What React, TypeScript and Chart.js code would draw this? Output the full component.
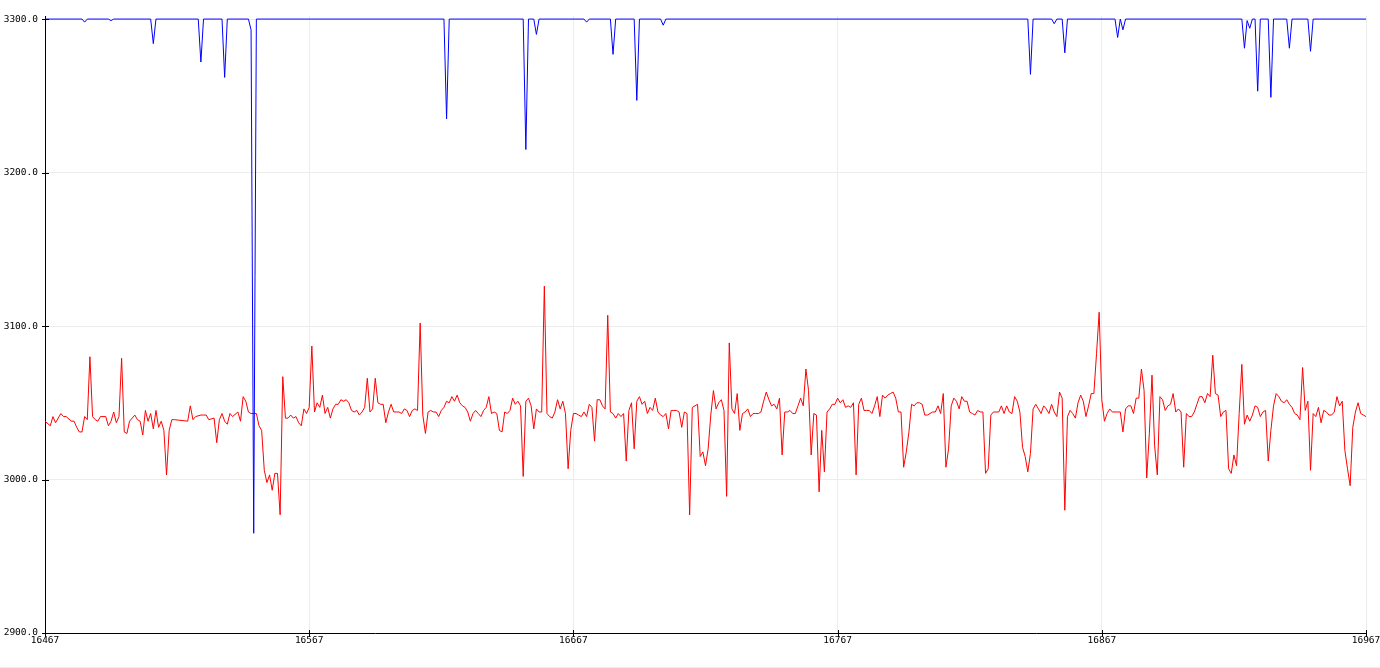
import React, { useEffect, useRef } from 'react';
import { Chart, registerables } from 'chart.js';

Chart.register(...registerables);

const START_SAMPLE = 16467;
const xTickValues = [16467, 16567, 16667, 16767, 16867, 16967];
const yTickValues = [2900, 3000, 3100, 3200, 3300];

// red series: one value per sample offset 0..500 (null = not read)
const redValues: (number | null)[] = [
  3038, null, 3035, 3041, 3037, null, 3043, 3041, 3041, null,
  3038, 3038, 3034, 3031, 3031, 3041, 3039, 3080, 3041, 3039,
  3038, 3041, null, 3041, 3035, 3038, 3044, 3037, 3041, 3079,
  3031, 3030, 3038, null, 3042, 3039, 3038, 3029, 3045, 3038,
  3043, 3033, 3045, 3034, 3038, 3032, 3003, 3032, 3039, 3039,
  null, null, null, null, 3038, 3048, 3039, 3041, null, 3042,
  3042, 3042, 3039, null, 3040, 3024, 3039, 3043, 3038, 3036,
  3043, 3041, null, 3044, 3038, 3054, 3051, 3044, 3043, null,
  3043, 3035, 3032, 3006, 2998, 3003, 2993, 3004, 3004, 2977,
  3067, 3040, 3040, 3042, 3040, 3041, 3037, 3035, 3046, 3043,
  3047, 3087, 3044, 3050, 3047, 3055, 3043, 3047, 3040, 3046,
  3049, 3049, 3052, 3051, 3052, 3050, 3045, 3044, 3045, 3042,
  3044, 3047, 3066, 3044, 3046, 3066, 3050, 3049, 3049, 3037,
  3044, 3049, 3044, 3044, 3044, 3043, 3046, 3045, 3041, 3045,
  3046, 3045, 3102, 3042, 3030, 3044, 3045, 3044, 3044, 3041,
  3045, 3047, 3051, 3050, 3054, 3051, 3055, 3050, 3048, 3047,
  3044, 3038, 3043, 3045, 3043, 3041, 3045, 3047, 3054, 3043,
  3044, 3043, 3032, 3031, 3044, 3043, 3045, 3053, 3049, 3051,
  3048, 3002, 3051, 3053, 3048, 3033, 3046, 3044, 3044, 3126,
  3043, 3041, 3040, 3044, 3052, 3046, 3051, 3043, 3007, 3032,
  3043, 3043, 3042, 3041, 3044, 3041, 3049, 3047, 3025, 3052,
  3052, 3048, 3046, 3107, 3044, 3043, 3040, 3043, 3041, 3043,
  3012, 3045, 3050, 3020, 3051, 3054, 3049, 3051, 3043, 3047,
  3045, 3053, 3044, 3042, 3041, 3043, 3033, 3045, 3045, 3045,
  3044, 3034, 3044, 3043, 2977, 3047, 3048, 3049, 3015, 3018,
  3009, 3020, 3042, 3058, 3046, 3050, 3052, 3045, 2989, 3089,
  3046, 3043, 3056, 3032, 3043, 3044, 3046, 3041, 3043, 3043,
  3043, 3044, 3051, 3057, 3052, 3048, 3049, 3046, 3053, 3016,
  3044, 3044, 3045, 3043, 3043, 3048, 3053, 3048, 3072, 3058,
  3016, 3043, 3042, 2992, 3032, 3005, 3044, 3046, 3049, 3049,
  3053, 3050, 3052, 3047, 3048, 3047, 3050, 3003, 3049, 3053,
  3045, 3045, 3045, 3043, 3048, 3054, 3041, 3055, 3053, 3055,
  3056, 3057, 3053, 3044, 3044, 3008, 3018, 3031, 3049, 3048,
  3050, 3050, 3049, 3042, 3042, 3043, 3044, 3044, 3048, 3043,
  3056, 3008, 3020, 3048, 3053, 3051, 3046, 3054, 3051, 3051,
  3044, 3043, 3042, 3045, 3044, 3044, 3004, 3007, 3042, 3044,
  3044, 3044, 3048, 3043, 3048, 3044, 3043, 3054, 3051, 3044,
  3021, 3015, 3005, 3017, 3046, 3049, 3046, 3043, 3048, 3046,
  3043, 3049, 3044, 3041, 3057, 3053, 2980, 3041, 3045, 3043,
  3040, 3050, 3055, 3051, 3041, 3048, 3056, 3056, 3082, 3109,
  3052, 3038, 3043, 3046, 3044, 3044, 3044, 3044, 3031, 3046,
  3048, 3048, 3043, 3053, 3053, 3072, 3058, 3001, 3030, 3068,
  3022, 3003, 3054, 3052, 3045, 3048, 3049, 3056, 3044, 3046,
  3044, 3008, 3043, 3041, 3041, 3044, 3049, 3054, 3054, 3050,
  3056, 3054, 3081, 3056, 3055, 3041, 3044, 3045, 3007, 3004,
  3016, 3009, 3043, 3075, 3036, 3042, 3038, 3042, 3048, 3047,
  3041, 3044, 3045, 3012, 3032, 3048, 3056, 3054, 3051, 3050,
  3052, 3049, 3047, 3043, 3042, 3039, 3073, 3045, 3051, 3006,
  3043, 3041, 3047, 3037, 3045, 3044, 3042, 3042, 3044, 3054,
  3048, 3051, 3019, 3007, 2996, 3034, 3044, 3050, 3043, 3042,
  3041,
];

// blue series: vertices (sample offset, value)
const blueSamples = [
  0, 14, 15, 16, 24, 25, 26, 40, 41, 42,
  58, 59, 60, 67, 68, 69, 77, 78, 79, 80,
  151, 152, 153, 181, 182, 183, 185, 186, 187, 204,
  205, 206, 214, 215, 216, 223, 224, 225, 233, 234,
  235, 372, 373, 374, 381, 382, 383, 385, 386, 387,
  405, 406, 407, 408, 409, 453, 454, 455, 456, 457,
  458, 459, 460, 463, 464, 465, 470, 471, 472, 478,
  479, 480, 500,
];
const blueValues = [
  3300, 3300, 3298, 3300, 3300, 3299, 3300, 3300, 3284, 3300,
  3300, 3272, 3300, 3300, 3262, 3300, 3300, 3293, 2965, 3300,
  3300, 3235, 3300, 3300, 3215, 3300, 3300, 3290, 3300, 3300,
  3298, 3300, 3300, 3277, 3300, 3300, 3247, 3300, 3300, 3296,
  3300, 3300, 3264, 3300, 3300, 3297, 3300, 3300, 3278, 3300,
  3300, 3288, 3300, 3293, 3300, 3300, 3281, 3299, 3294, 3300,
  3300, 3253, 3300, 3300, 3249, 3300, 3300, 3281, 3300, 3300,
  3279, 3300, 3300,
];

const FONT = { family: '"DejaVu Sans Mono", "Liberation Mono", monospace', size: 9.5 };

export default function App() {
  const ref = useRef<HTMLCanvasElement | null>(null);

  useEffect(() => {
    document.body.style.margin = '0';
    const canvas = ref.current;
    if (!canvas) return;

    const crossTicks = {
      id: 'crossTicks',
      afterDraw(chart: any) {
        const { ctx, chartArea, scales } = chart;
        ctx.save();
        ctx.strokeStyle = '#000';
        ctx.lineWidth = 1;
        ctx.beginPath();
        yTickValues.forEach((v) => {
          const y = Math.round(scales.y.getPixelForValue(v)) + 0.5;
          ctx.moveTo(chartArea.left - 3, y);
          ctx.lineTo(chartArea.left + 4, y);
        });
        xTickValues.forEach((v) => {
          const x = Math.round(scales.x.getPixelForValue(v)) + 0.5;
          ctx.moveTo(x, chartArea.bottom - 3);
          ctx.lineTo(x, chartArea.bottom + 4);
        });
        ctx.stroke();
        ctx.restore();
      },
    };

    const chart = new Chart(canvas, {
      type: 'line',
      data: {
        datasets: [
          {
            label: 'blue',
            data: blueSamples.map((s, i) => ({ x: START_SAMPLE + s, y: blueValues[i] })),
            borderColor: '#0000ff',
            borderWidth: 1,
            pointRadius: 0,
            tension: 0,
            fill: false,
          },
          {
            label: 'red',
            data: redValues.map((v, i) => ({ x: START_SAMPLE + i, y: v })),
            borderColor: '#ff0000',
            borderWidth: 1,
            pointRadius: 0,
            tension: 0,
            fill: false,
            spanGaps: true,
          },
        ],
      },
      options: {
        animation: false,
        responsive: false,
        events: [],
        plugins: { legend: { display: false }, tooltip: { enabled: false } },
        layout: { padding: { top: 16, right: 14, left: 0, bottom: 0 } },
        scales: {
          x: {
            type: 'linear',
            min: 16467,
            max: 16967,
            afterBuildTicks: (s: any) => {
              s.ticks = xTickValues.map((v) => ({ value: v }));
            },
            afterFit: (s: any) => {
              s.height = 34;
              s.paddingLeft = 0;
              s.paddingRight = 0;
            },
            ticks: {
              autoSkip: false,
              maxRotation: 0,
              padding: 2,
              color: '#000',
              font: FONT,
              callback: (v: any) => String(v),
            },
            grid: { color: '#ececec', drawTicks: false },
            border: { color: '#000', width: 1 },
          },
          y: {
            type: 'linear',
            min: 2900,
            max: 3302,
            afterBuildTicks: (s: any) => {
              s.ticks = yTickValues.map((v) => ({ value: v }));
            },
            afterFit: (s: any) => {
              s.width = 45;
              s.paddingTop = 0;
              s.paddingBottom = 0;
            },
            ticks: {
              padding: 7,
              color: '#000',
              font: FONT,
              callback: (v: any) => Number(v).toFixed(1),
            },
            grid: { color: '#ececec', drawTicks: false },
            border: { color: '#000', width: 1 },
          },
        },
      },
      plugins: [crossTicks],
    });

    return () => chart.destroy();
  }, []);

  return (
    <div style={{ width: 1380, height: 667, borderBottom: '1px solid #eeeeee', background: '#fff' }}>
      <canvas ref={ref} width={1380} height={667} style={{ display: 'block' }} />
    </div>
  );
}
